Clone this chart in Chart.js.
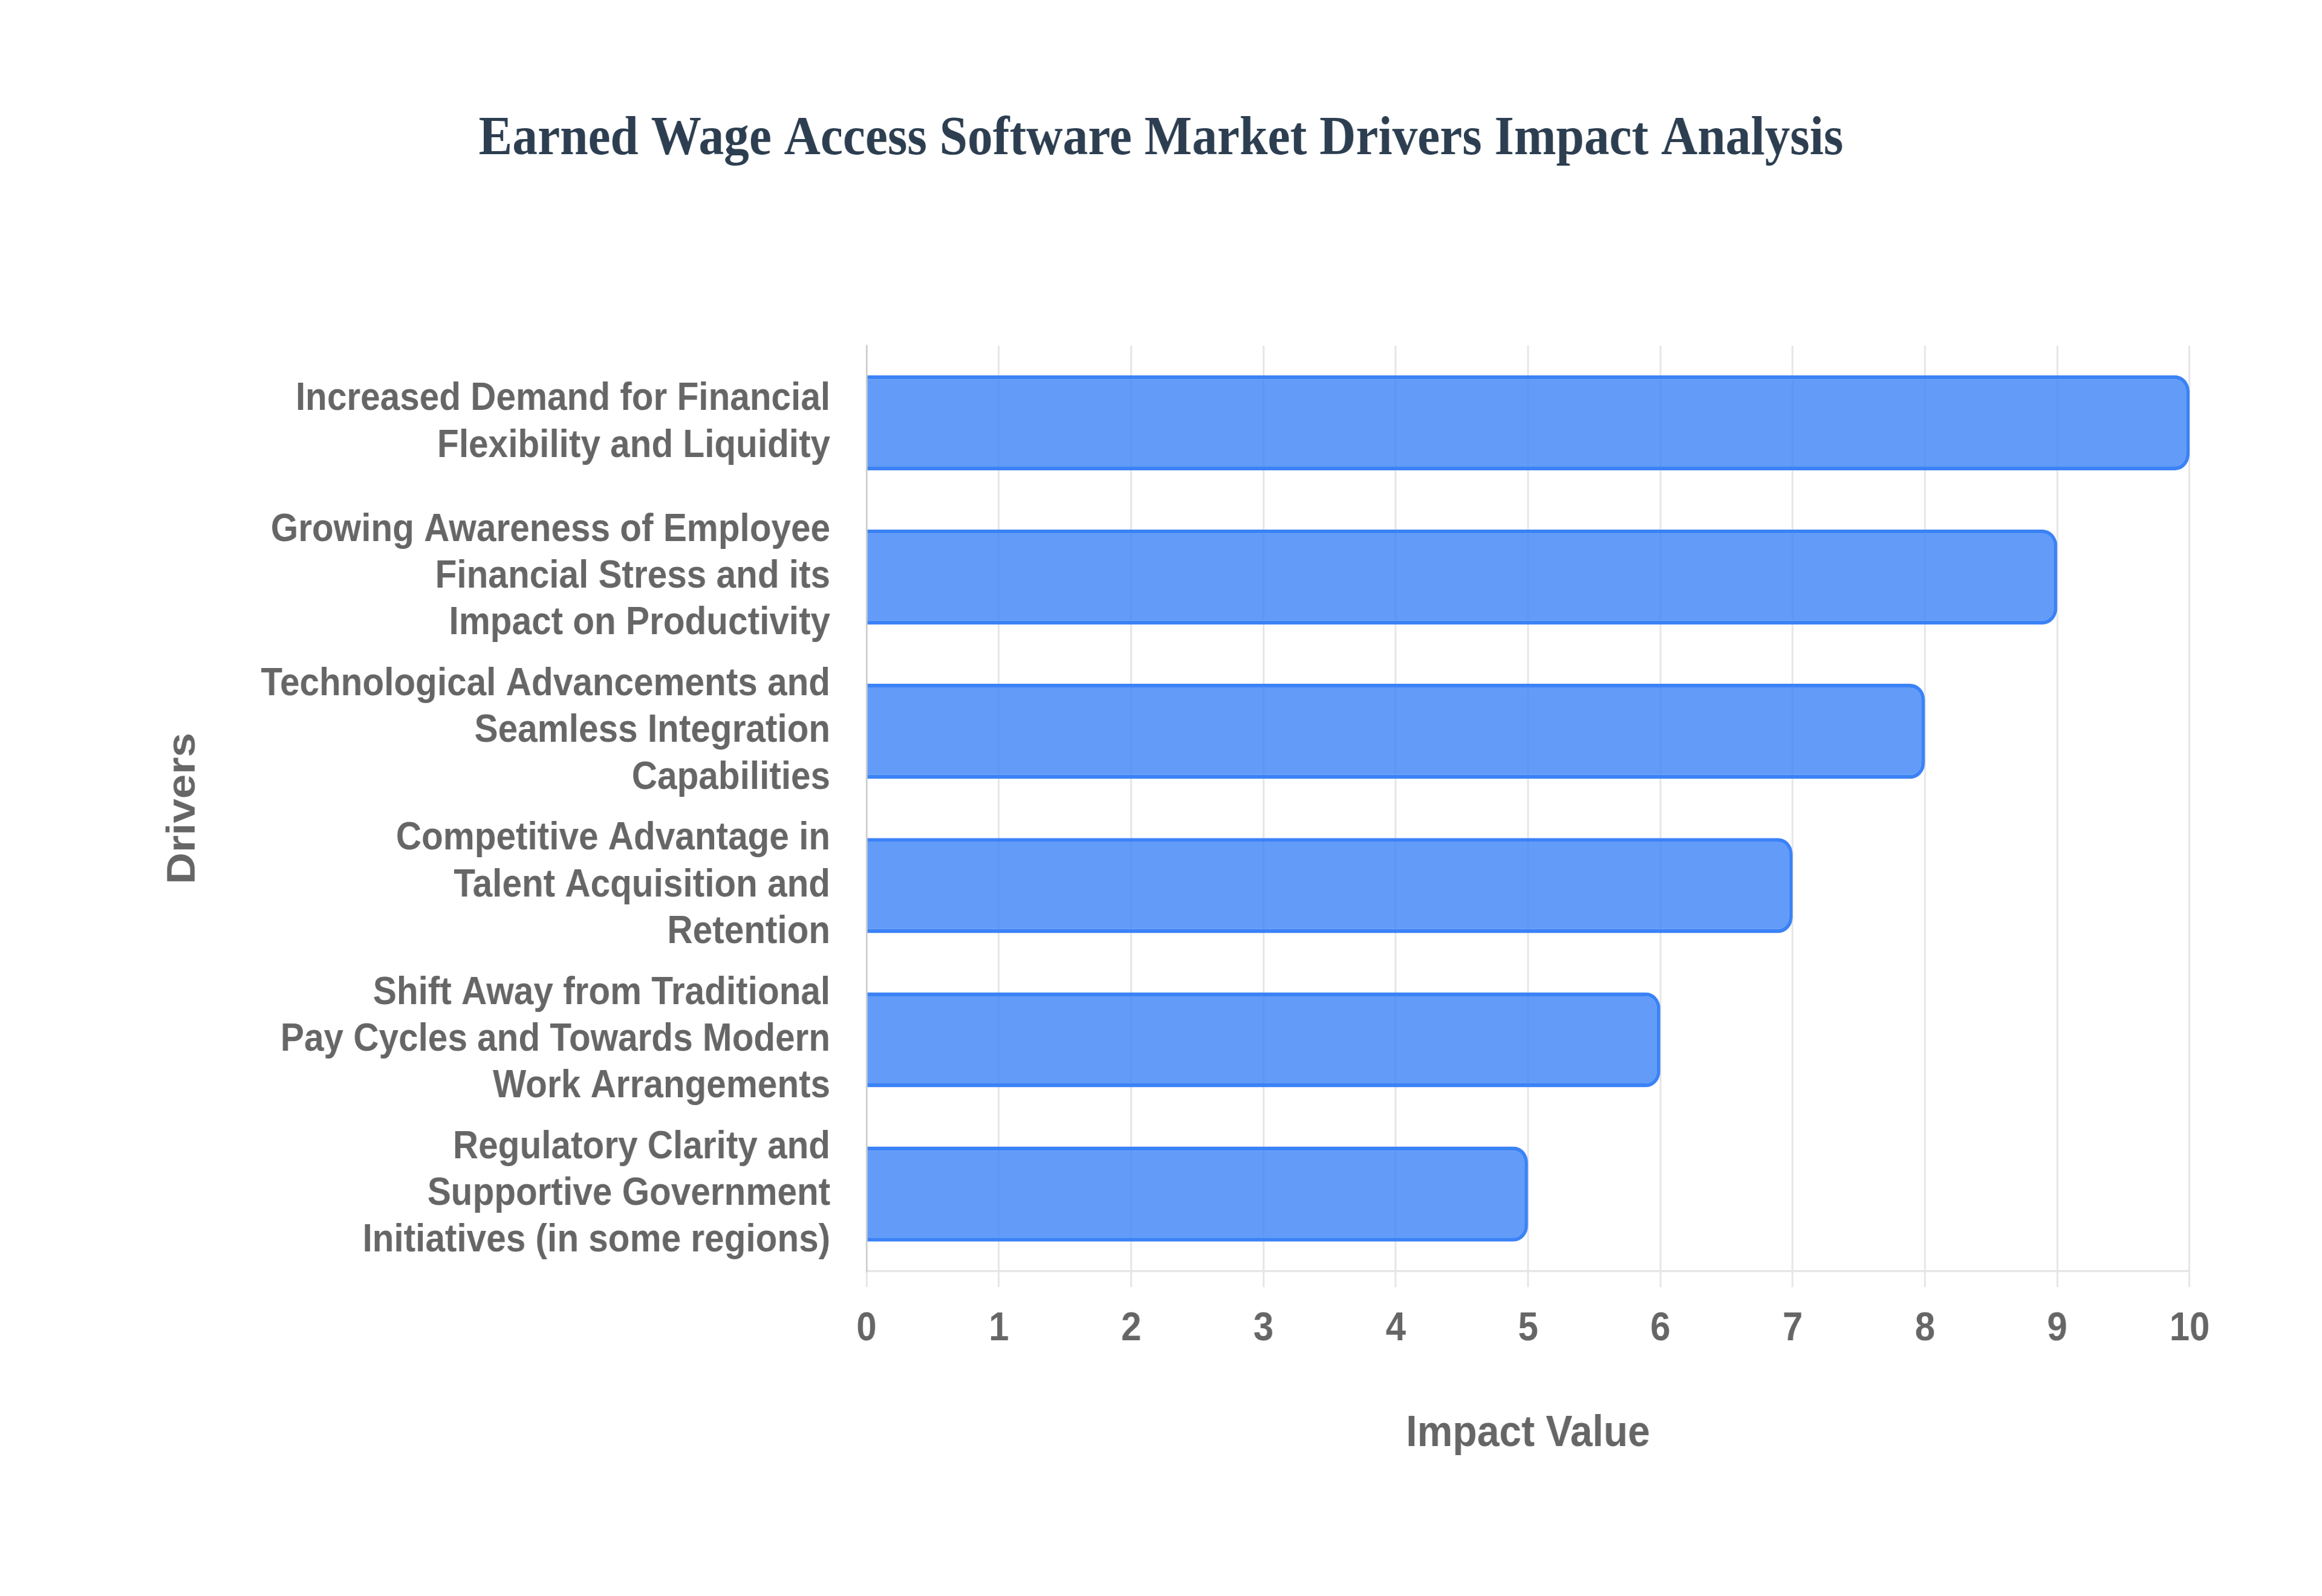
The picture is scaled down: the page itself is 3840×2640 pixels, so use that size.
<!DOCTYPE html>
<html>
<head>
<meta charset="utf-8">
<title>Earned Wage Access Software Market Drivers Impact Analysis</title>
<script src="https://cdn.jsdelivr.net/npm/chart.js@4.4.1/dist/chart.umd.min.js"></script>
<style>
  html, body { margin: 0; padding: 0; background: #ffffff; }
  #driversChart { display: block; width: 3840px; height: 2640px; }
</style>
</head>
<body>
<canvas id="driversChart" width="1280" height="800" style="width:3840px;height:2640px;"></canvas>
<script>
'use strict';

// drivers, wrapped the same way as in the source chart
var drivers = [
  ['Increased Demand for Financial', 'Flexibility and Liquidity'],
  ['Growing Awareness of Employee', 'Financial Stress and its', 'Impact on Productivity'],
  ['Technological Advancements and', 'Seamless Integration', 'Capabilities'],
  ['Competitive Advantage in', 'Talent Acquisition and', 'Retention'],
  ['Shift Away from Traditional', 'Pay Cycles and Towards Modern', 'Work Arrangements'],
  ['Regulatory Clarity and', 'Supportive Government', 'Initiatives (in some regions)']
];

var impactValues = [10, 9, 8, 7, 6, 5];

var impactTicks = [0, 1, 2, 3, 4, 5, 6, 7, 8, 9, 10];

var sansFont = "'Liberation Sans', Arial, Helvetica, sans-serif";
var serifFont = "'Liberation Serif', 'Times New Roman', serif";

var driversData = {
  labels: drivers,
  datasets: [{
    label: 'Impact Value',
    data: impactValues,
    backgroundColor: 'rgba(59, 130, 246, 0.8)',
    borderColor: 'rgba(59, 130, 246, 1)',
    borderWidth: 2,
    borderRadius: 8,
    barPercentage: 0.77,
    categoryPercentage: 0.8
  }]
};

var driversOptions = {
  indexAxis: 'y',
  responsive: false,
  animation: false,
  devicePixelRatio: 3.3000001,
  layout: {
    padding: { top: 30, right: 73, bottom: 58, left: 73 }
  },
  plugins: {
    legend: { display: false },
    tooltip: { enabled: false },
    title: {
      display: true,
      text: 'Earned Wage Access Software Market Drivers Impact Analysis',
      color: '#2c3e50',
      font: { family: serifFont, size: 27.8, weight: 'bold' },
      padding: { top: 23.5, bottom: 86.4 }
    }
  },
  scales: {
    x: {
      min: 0,
      max: 10,
      afterBuildTicks: function(scale) {
        scale.ticks = impactTicks.map(function(v) { return { value: v }; });
      },
      grid: { color: 'rgba(0, 0, 0, 0.1)', tickLength: 8 },
      border: { color: 'rgba(0, 0, 0, 0.1)' },
      ticks: {
        color: '#666666',
        padding: 9,
        font: { family: sansFont, size: 20, weight: 'bold' }
      },
      title: {
        display: true,
        text: 'Impact Value',
        color: '#666666',
        font: { family: sansFont, size: 22, weight: 'bold' },
        padding: { top: 18.4, bottom: 10 }
      }
    },
    y: {
      grid: { display: false, drawTicks: false },
      border: { color: 'rgba(0, 0, 0, 0.1)' },
      afterFit: function(scale) {
        scale.width = 477.7 - 73;
      },
      ticks: {
        color: '#666666',
        padding: 20,
        font: { family: sansFont, size: 19.5, weight: 'bold', lineHeight: 1.2 }
      },
      title: {
        display: true,
        text: 'Drivers',
        color: '#666666',
        font: { family: sansFont, size: 22, weight: 'bold' },
        padding: { top: 15, bottom: 10 }
      }
    }
  }
};

var driversChart = new Chart(document.getElementById('driversChart').getContext('2d'), {
  type: 'bar',
  data: driversData,
  options: driversOptions
});
</script>
</body>
</html>
